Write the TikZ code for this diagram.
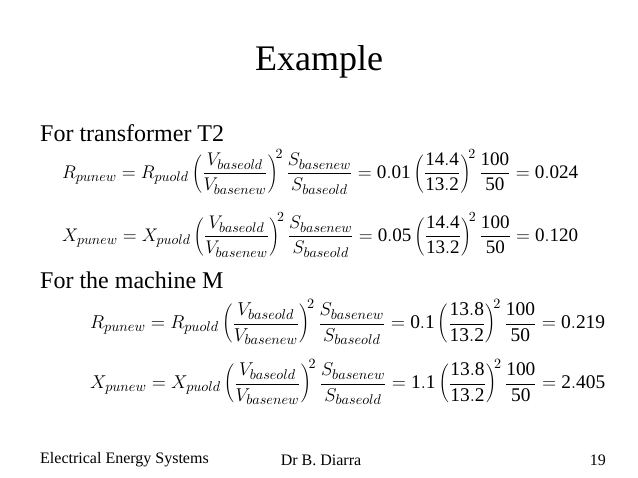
\documentclass[tikz,border=0pt]{standalone}
\usepackage{fontspec}
\setmainfont{Liberation Serif}
\usepackage{graphicx}
\begin{document}
\begin{tikzpicture}[x=1pt,y=-1pt,
  txt/.style={inner sep=0pt,font=\fontsize{24}{28}\selectfont},
  eq/.style={inner sep=0pt,font=\fontsize{15}{18}\selectfont},
  foot/.style={inner sep=0pt,font=\fontsize{16}{19}\selectfont}]
\useasboundingbox (0,0) rectangle (638,478);
\node[inner sep=0pt,font=\fontsize{36}{40}\selectfont] (title) at (319,62) {Example};
\node[txt,anchor=west] (h1) at (40,133) {For transformer T2};
\node[eq,anchor=west] (e1) at (62,172) {\resizebox{516pt}{!}{$\displaystyle R_{punew}=R_{puold}\left(\frac{V_{baseold}}{V_{basenew}}\right)^{\!2}\frac{S_{basenew}}{S_{baseold}}=\mathrm{0.01}\left(\frac{\mathrm{14.4}}{\mathrm{13.2}}\right)^{\!2}\frac{\mathrm{100}}{\mathrm{50}}=\mathrm{0.024}$}};
\node[eq,anchor=west] (e2) at (62,235) {\resizebox{516pt}{!}{$\displaystyle X_{punew}=X_{puold}\left(\frac{V_{baseold}}{V_{basenew}}\right)^{\!2}\frac{S_{basenew}}{S_{baseold}}=\mathrm{0.05}\left(\frac{\mathrm{14.4}}{\mathrm{13.2}}\right)^{\!2}\frac{\mathrm{100}}{\mathrm{50}}=\mathrm{0.120}$}};
\node[txt,anchor=west] (h2) at (40,280) {For the machine M};
\node[eq,anchor=west] (e3) at (90,322) {\resizebox{515pt}{!}{$\displaystyle R_{punew}=R_{puold}\left(\frac{V_{baseold}}{V_{basenew}}\right)^{\!2}\frac{S_{basenew}}{S_{baseold}}=\mathrm{0.1}\left(\frac{\mathrm{13.8}}{\mathrm{13.2}}\right)^{\!2}\frac{\mathrm{100}}{\mathrm{50}}=\mathrm{0.219}$}};
\node[eq,anchor=west] (e4) at (90,382) {\resizebox{515pt}{!}{$\displaystyle X_{punew}=X_{puold}\left(\frac{V_{baseold}}{V_{basenew}}\right)^{\!2}\frac{S_{basenew}}{S_{baseold}}=\mathrm{1.1}\left(\frac{\mathrm{13.8}}{\mathrm{13.2}}\right)^{\!2}\frac{\mathrm{100}}{\mathrm{50}}=\mathrm{2.405}$}};
\node[foot,anchor=west] (f1) at (40,460) {Electrical Energy Systems};
\node[foot] (f2) at (321,460) {Dr B. Diarra};
\node[foot,anchor=east] (f3) at (606,460) {19};
\end{tikzpicture}
\end{document}
